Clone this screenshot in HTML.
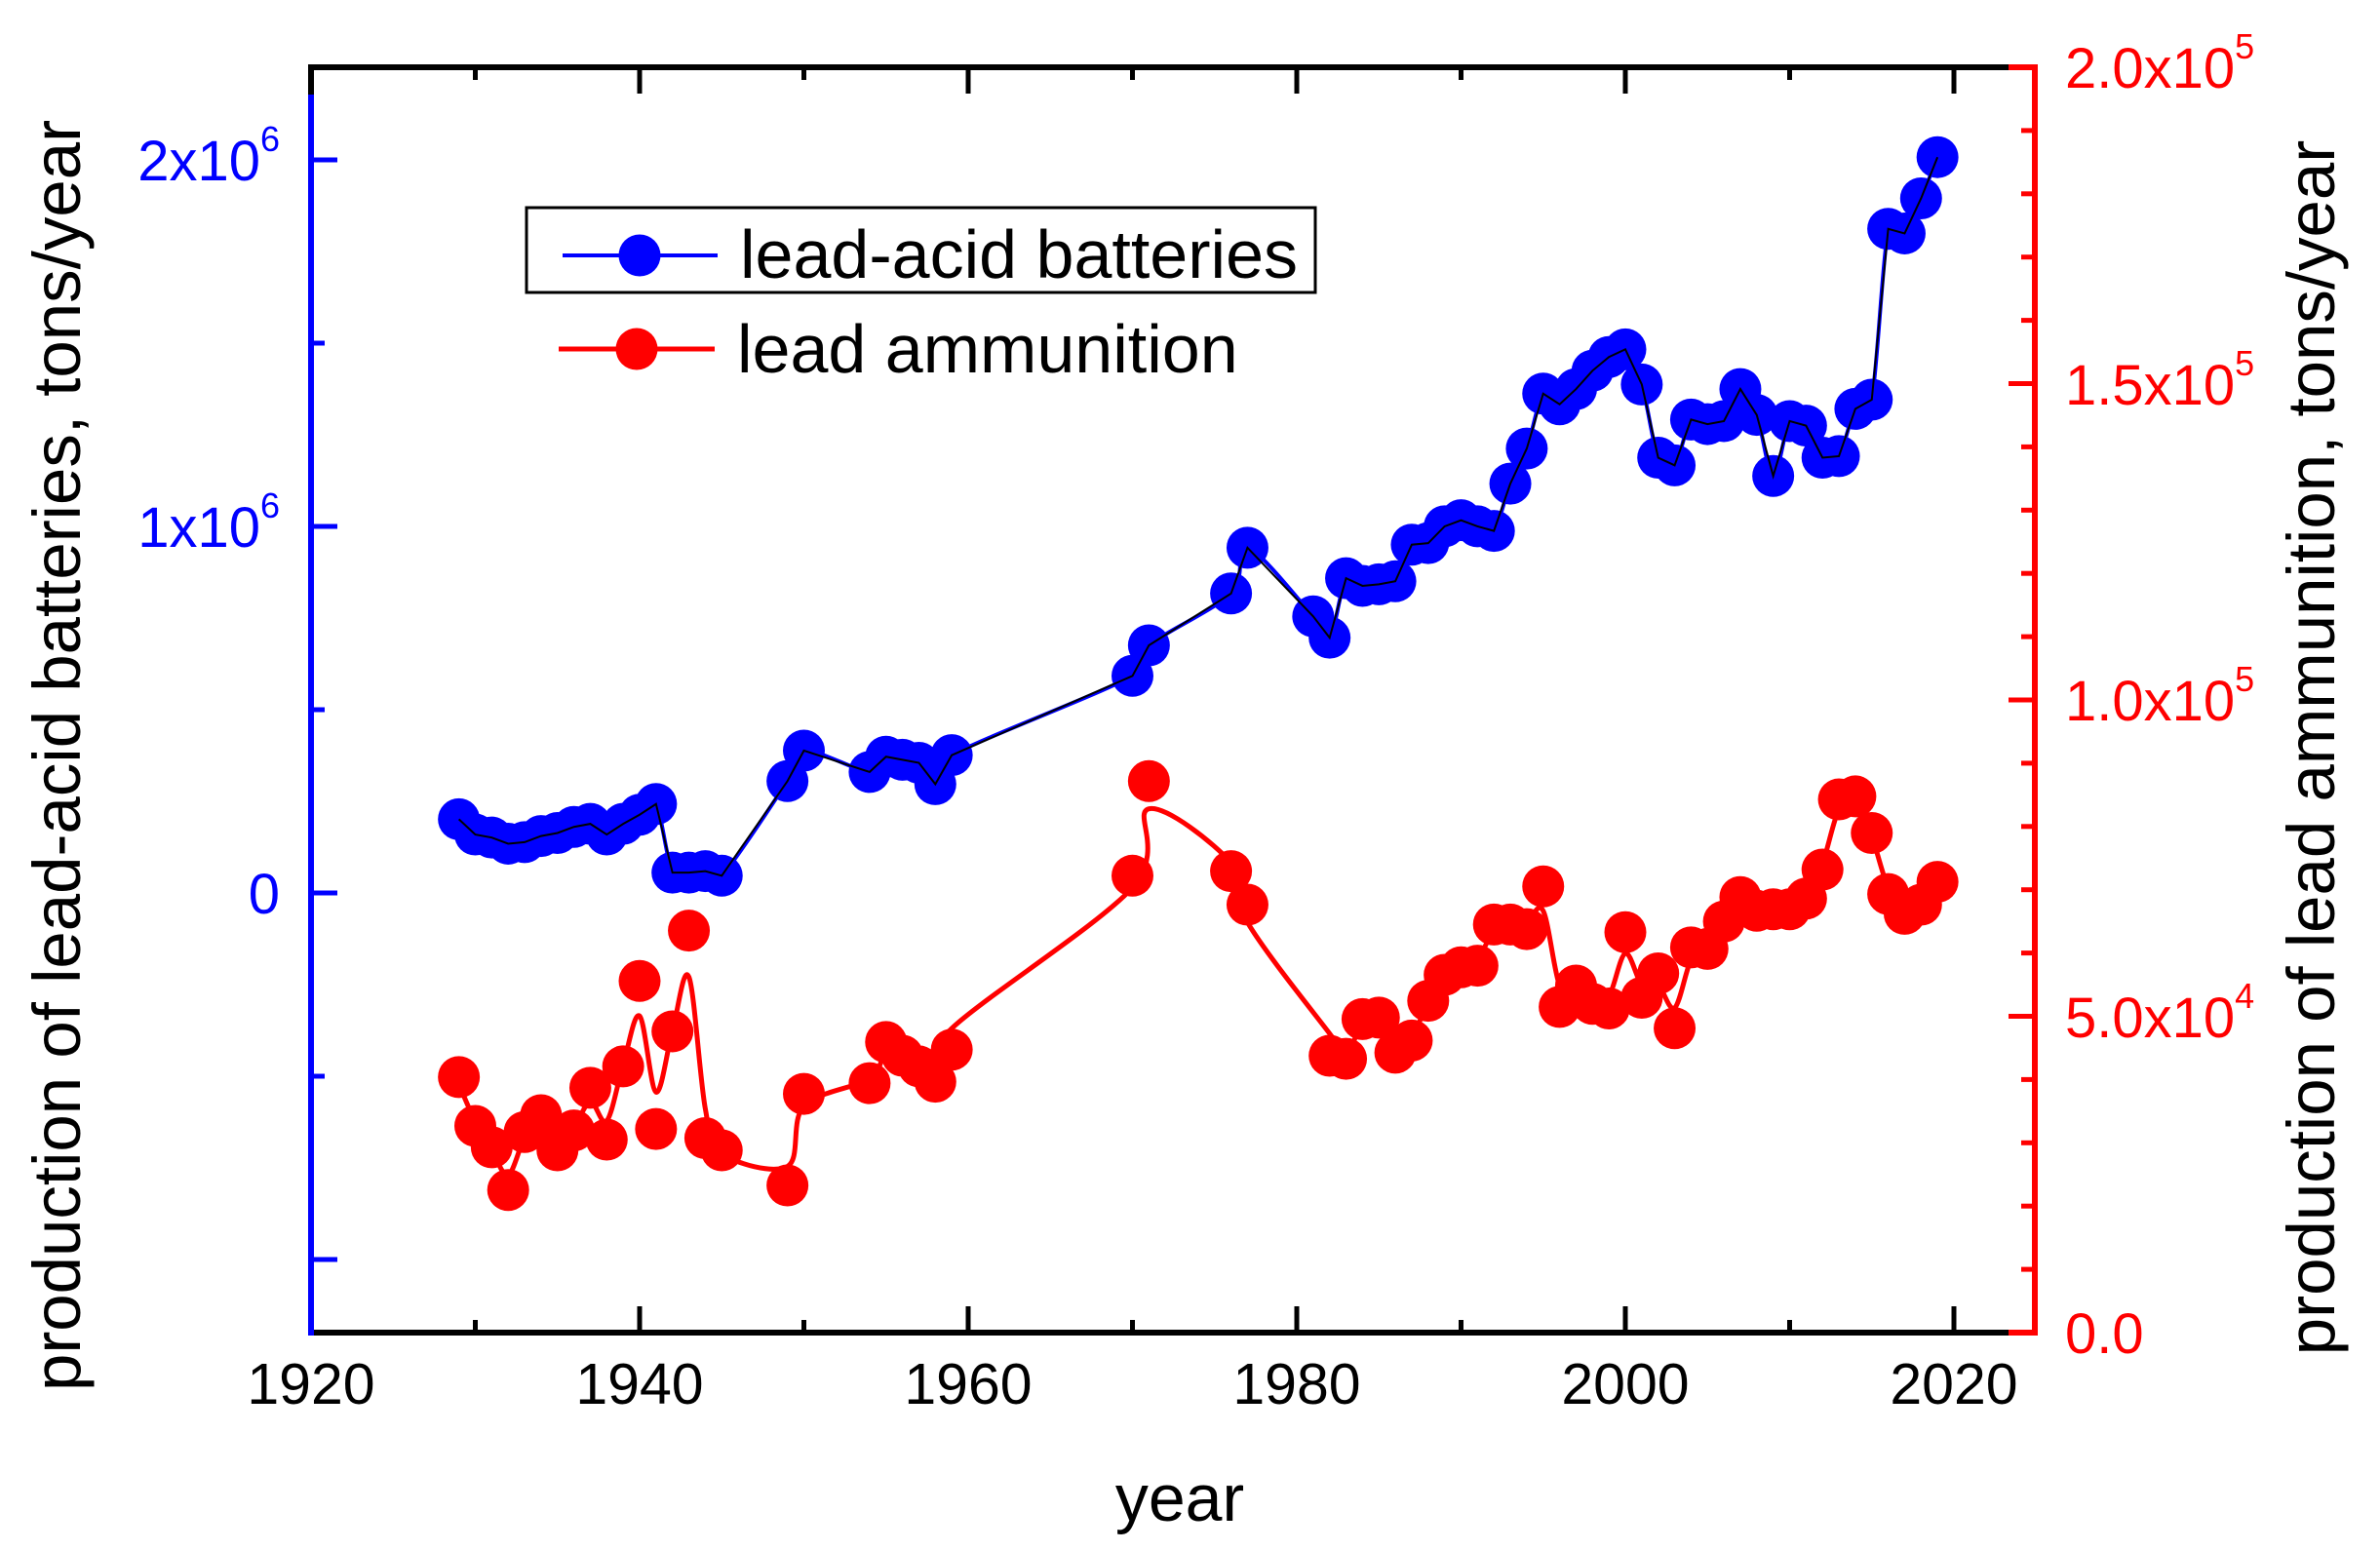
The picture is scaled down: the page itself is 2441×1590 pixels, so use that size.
<!DOCTYPE html>
<html><head><meta charset="utf-8"><style>
html,body{margin:0;padding:0;background:#fff;}
svg{display:block;}
text{font-family:"Liberation Sans",Arial,sans-serif;}
</style></head><body>
<svg id="s" width="2441" height="1590" viewBox="0 0 2441 1590" xmlns="http://www.w3.org/2000/svg">
<g id="plot"></g>
<line x1="316" y1="69" x2="2088" y2="69" stroke="#000" stroke-width="6"/>
<line x1="2060" y1="69" x2="2090" y2="69" stroke="#f00" stroke-width="6"/>
<line x1="316" y1="1367" x2="2088" y2="1367" stroke="#000" stroke-width="6"/>
<line x1="2060" y1="1367" x2="2090" y2="1367" stroke="#f00" stroke-width="6"/>
<line x1="319" y1="97" x2="319" y2="1370" stroke="#00f" stroke-width="6"/>
<line x1="319" y1="66" x2="319" y2="97" stroke="#000" stroke-width="6"/>
<line x1="2087" y1="66" x2="2087" y2="1370" stroke="#f00" stroke-width="6"/>
<g id="ticks"></g>
<g font-size="59" fill="#000" text-anchor="middle">
<text x="319" y="1440">1920</text>
<text x="656" y="1440">1940</text>
<text x="993" y="1440">1960</text>
<text x="1330" y="1440">1980</text>
<text x="1667" y="1440">2000</text>
<text x="2004" y="1440">2020</text>
</g>
<g font-size="58" fill="#00f" text-anchor="end">
<text x="287" y="185">2x10<tspan font-size="36" dy="-30">6</tspan></text>
<text x="287" y="561">1x10<tspan font-size="36" dy="-30">6</tspan></text>
<text x="287" y="937">0</text>
</g>
<g font-size="58" fill="#f00">
<text x="2118" y="90">2.0x10<tspan font-size="36" dy="-30">5</tspan></text>
<text x="2118" y="415">1.5x10<tspan font-size="36" dy="-30">5</tspan></text>
<text x="2118" y="739">1.0x10<tspan font-size="36" dy="-30">5</tspan></text>
<text x="2118" y="1064">5.0x10<tspan font-size="36" dy="-30">4</tspan></text>
<text x="2118" y="1388">0.0</text>
</g>
<text x="1210" y="1560" font-size="68" text-anchor="middle">year</text>
<text transform="translate(82,775) rotate(-90)" font-size="69" text-anchor="middle">production of lead-acid batteries, tons/year</text>
<text transform="translate(2394,767) rotate(-90)" font-size="69" text-anchor="middle">production of lead ammunition, tons/year</text>
<rect x="540" y="213" width="809" height="87" fill="#fff" stroke="#000" stroke-width="3"/>
<line x1="577" y1="262" x2="736" y2="262" stroke="#00f" stroke-width="4"/>
<circle cx="656" cy="262" r="21.5" fill="#00f"/>
<text x="759" y="285" font-size="70">lead-acid batteries</text>
<line x1="573" y1="358" x2="733" y2="358" stroke="#f00" stroke-width="5"/>
<circle cx="653" cy="358" r="21.5" fill="#f00"/>
<text x="756" y="382" font-size="70">lead ammunition</text>
</svg>
<script>
(function(){
var NS="http://www.w3.org/2000/svg";
function X(y){return 319+(y-1920)*16.85;}
var S=1.565;
var blue=[[1929,537],[1930,547],[1931,549],[1932,553],[1933,552],[1934,548],[1935,546],[1936,542],[1937,540],[1938,547],[1939,540],[1940,534],[1941,527],[1942,572],[1943,572],[1944,571],[1945,574],[1949,512],[1950,492],[1954,506],[1955,496],[1956,498],[1957,500],[1958,514],[1959,495],[1970,443],[1971,423],[1976,389],[1977,359],[1981,404],[1982,418],[1983,379],[1984,384],[1985,383],[1986,381],[1987,357],[1988,356],[1989,345],[1990,341],[1991,345],[1992,348],[1993,317],[1994,294],[1995,258],[1996,265],[1997,255],[1998,243],[1999,234],[2000,229],[2001,252],[2002,300],[2003,305],[2004,275],[2005,278],[2006,276],[2007,255],[2008,272],[2009,312],[2010,276],[2011,279],[2012,300],[2013,299],[2014,268],[2015,262],[2016,150],[2017,153],[2018,130],[2019,103]];
var red=[[1929,706],[1930,738],[1931,752],[1932,780],[1933,742],[1934,731],[1935,754],[1936,741],[1937,713],[1938,747],[1939,699],[1940,643],[1941,740],[1942,676],[1943,610],[1944,746],[1945,754],[1949,777],[1950,717],[1954,710],[1955,683],[1956,692],[1957,699],[1958,709],[1959,688],[1970,574],[1971,512],[1976,571],[1977,593],[1982,692],[1983,694],[1984,668],[1985,667],[1986,690],[1987,682],[1988,656],[1989,639],[1990,634],[1991,633],[1992,606],[1993,606],[1994,609],[1995,581],[1996,660],[1997,646],[1998,658],[1999,661],[2000,611],[2001,654],[2002,638],[2003,674],[2004,621],[2005,622],[2006,604],[2007,588],[2008,597],[2009,596],[2010,596],[2011,589],[2012,570],[2013,524],[2014,522],[2015,546],[2016,586],[2017,599],[2018,593],[2019,578]];
function pts(d){return d.map(function(p){return [X(p[0]),p[1]*S];});}
function smooth(P,w){var o=[];for(var i=0;i<P.length;i++){var a=P[Math.max(0,i-1)],b=P[i],c=P[Math.min(P.length-1,i+1)];o.push([b[0],w*a[1]+(1-2*w)*b[1]+w*c[1]]);}return o;}
function cr(P){var d="M"+P[0][0]+","+P[0][1];for(var i=0;i<P.length-1;i++){var p0=P[Math.max(0,i-1)],p1=P[i],p2=P[i+1],p3=P[Math.min(P.length-1,i+2)];var c1=[p1[0]+(p2[0]-p0[0])/6,p1[1]+(p2[1]-p0[1])/6],c2=[p2[0]-(p3[0]-p1[0])/6,p2[1]-(p3[1]-p1[1])/6];d+=" C"+c1[0]+","+c1[1]+" "+c2[0]+","+c2[1]+" "+p2[0]+","+p2[1];}return d;}
var g=document.getElementById("plot");
function el(n,a){var e=document.createElementNS(NS,n);for(var k in a)e.setAttribute(k,a[k]);g.appendChild(e);return e;}
var B=pts(blue),R=pts(red);
el("path",{d:cr(smooth(R,0.15)),fill:"none",stroke:"#f00","stroke-width":5});
R.forEach(function(p){el("circle",{cx:p[0],cy:p[1],r:21.5,fill:"#f00"});});
el("path",{d:cr(B),fill:"none",stroke:"#00f","stroke-width":4});
B.forEach(function(p){el("circle",{cx:p[0],cy:p[1],r:21.5,fill:"#00f"});});
el("polyline",{points:B.map(function(p){return p.join(",");}).join(" "),fill:"none",stroke:"#000","stroke-width":2});
var t=document.getElementById("ticks");
function ln(x1,y1,x2,y2,c,w){var e=document.createElementNS(NS,"line");e.setAttribute("x1",x1);e.setAttribute("y1",y1);e.setAttribute("x2",x2);e.setAttribute("y2",y2);e.setAttribute("stroke",c);e.setAttribute("stroke-width",w||5);t.appendChild(e);}
for(var yr=1930;yr<=2020;yr+=10){var x=X(yr),L=(yr%20==0)?27:13;ln(x,1367,x,1367-L,"#000");ln(x,69,x,69+L,"#000");}
[[164,27],[352,14],[540,27],[728,14],[1104,14],[1292,27],[916,27]].forEach(function(a){ln(319,a[0],319+a[1],a[0],"#00f");});
for(var i=0;i<=20;i++){var y=1367-i*64.9;var L=(i%5==0)?27:14;ln(2087,y,2087-L,y,"#f00");}
})();
</script>
</body></html>
